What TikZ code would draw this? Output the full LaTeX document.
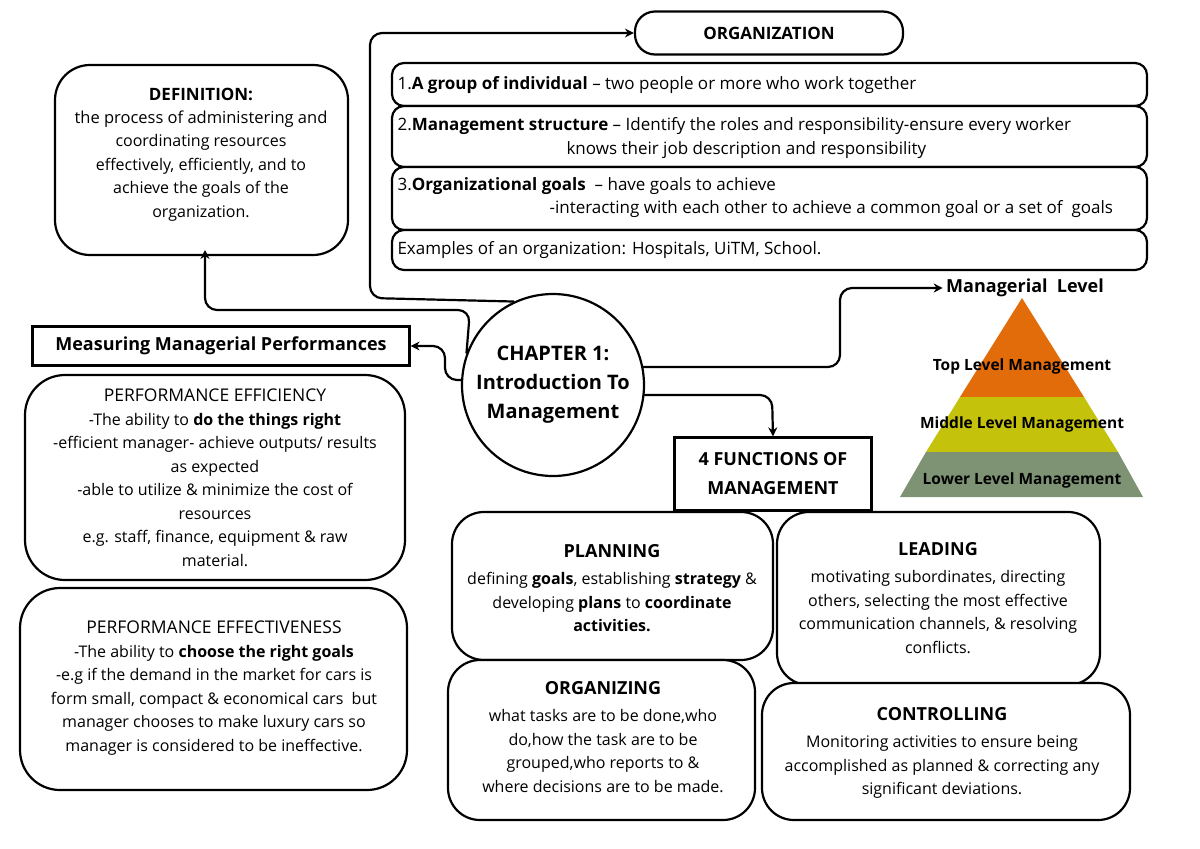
\documentclass[tikz,border=0pt]{standalone}
\usepackage{fontspec}
\setmainfont{Open Sans}
\usetikzlibrary{arrows.meta,calc}
\begin{document}
\begin{tikzpicture}[x=1pt,y=-1pt,
  bx/.style={draw,line width=2.2pt,rounded corners=#1,fill=white},
  bx/.default=30pt,
  txt/.style={align=center,font=\fontsize{16}{23.5}\selectfont},
  ot/.style={anchor=west,font=\fontsize{17}{18}\selectfont},
  arr/.style={line width=2.2pt,-{Stealth[length=9pt,width=9pt]},rounded corners=12pt}]
\useasboundingbox (0,0) rectangle (1200,849);
% definition
\draw[bx=35pt] (55,65) rectangle (348,255);
\node[txt] (def) at (201,155) {\fontsize{17}{23.5}\bfseries DEFINITION:\\[-1pt]\mdseries\fontsize{16.5}{23.5}\selectfont the process of administering and\\coordinating resources\\effectively, efficiently, and to\\achieve the goals of the\\organization.};
\coordinate (defs) at (205,250);
% circle
\node[draw,circle,line width=2.2pt,minimum size=182pt,align=center,font=\fontsize{20}{29}\bfseries] (ch) at (553,385) {CHAPTER 1:\\Introduction To\\Management};
% organization
\node[draw,line width=2.2pt,rounded corners=20pt,minimum width=268pt,minimum height=43pt,font=\fontsize{17}{18}\bfseries] (org) at (769,33) {ORGANIZATION};
\draw[arr] (ch.115) -- (370,298) -- (370,33) -- (org.west);
\draw[bx=12pt] (392,63) rectangle (1147,106);
\draw[bx=12pt] (392,106) rectangle (1147,167);
\draw[bx=12pt] (392,167) rectangle (1147,230);
\draw[bx=12pt] (392,230) rectangle (1147,270);
\node[ot] (o1) at (394,85) {1.\textbf{A group of individual} – two people or more who work together};
\node[ot] (o2) at (394,126) {2.\textbf{Management structure} – Identify the roles and responsibility-ensure every worker};
\node[ot] (o2b) at (563,150) {knows their job description and responsibility};
\node[ot] (o3) at (394,186) {3.\textbf{Organizational goals}\ \ – have goals to achieve};
\node[ot] (o3b) at (546,209) {-interacting with each other to achieve a common goal or a set of\ \ goals};
\node[ot] (o4) at (394,250) {Examples of an organization: Hospitals, UiTM, School.};
% definition arrow
\draw[arr] (ch.160) -- (470,310) -- (205,310) -- (defs);
% managerial level
\node[font=\fontsize{18}{20}\bfseries] (ml) at (1025,288) {Managerial\ \ Level};
\draw[arr] ($(ch.center)+(89,-18)$) -- (840,367) -- (840,288) -- (ml.west);
\fill[fill={rgb,255:red,227;green,108;blue,10}] (1022,298) -- (960,397) -- (1084,397) -- cycle;
\fill[fill={rgb,255:red,196;green,194;blue,10}] (960,397) -- (1084,397) -- (1118,452) -- (926,452) -- cycle;
\fill[fill={rgb,255:red,126;green,146;blue,116}] (926,452) -- (1118,452) -- (1143,497) -- (900,497) -- cycle;
\node[font=\fontsize{15.5}{17}\bfseries] (t1) at (1022,366) {Top Level Management};
\node[font=\fontsize{15.5}{17}\bfseries] (t2) at (1022,424) {Middle Level Management};
\node[font=\fontsize{15.5}{17}\bfseries] (t3) at (1022,480) {Lower Level Management};
% measuring
\node[draw,line width=2.2pt,minimum width=377pt,minimum height=39pt,font=\fontsize{18}{20}\bfseries] (mm) at (221,346) {Measuring Managerial Performances};
\draw[arr] ($(ch.center)+(-91,-5)$) -- (445,380) -- (445,346) -- (mm.east);
\draw[bx=40pt] (25,375) rectangle (405,580);
\node[txt] (pe) at (215,478) {\fontsize{17.5}{23.5}\selectfont PERFORMANCE EFFICIENCY\\-The ability to \textbf{do the things right}\\-efficient manager- achieve outputs/ results\\as expected\\-able to utilize \& minimize the cost of\\resources\\e.g. staff, finance, equipment \& raw\\material.};
\draw[bx=40pt] (20,588) rectangle (407,790);
\node[txt] (pf) at (214,688) {\fontsize{17.5}{23.5}\selectfont PERFORMANCE EFFECTIVENESS\\-The ability to \textbf{choose the right goals}\\-e.g if the demand in the market for cars is\\form small, compact \& economical cars\ \ but\\manager chooses to make luxury cars so\\manager is considered to be ineffective.};
% functions
\node[draw,line width=2.2pt,minimum width=197pt,minimum height=73pt,align=center,font=\fontsize{18}{29}\bfseries] (fn) at (773,474) {4 FUNCTIONS OF\\MANAGEMENT};
\draw[arr] ($(ch.center)+(90,10)$) -- (772,395) -- (fn.north);
\draw[bx=32pt] (452,512) rectangle (773,660);
\node[txt] (pl) at (612,588) {\fontsize{18}{20}\bfseries PLANNING\\[4pt]\mdseries\fontsize{16}{23.5}\selectfont defining \textbf{goals}, establishing \textbf{strategy} \&\\developing \textbf{plans} to \textbf{coordinate}\\\textbf{activities.}};
\draw[bx=32pt] (777,512) rectangle (1100,685);
\node[txt] (ld) at (938,598) {\fontsize{18}{20}\bfseries LEADING\\[4pt]\mdseries\fontsize{16}{23.5}\selectfont motivating subordinates, directing\\others, selecting the most effective\\communication channels, \& resolving\\conflicts.};
\draw[bx=32pt] (448,660) rectangle (755,820);
\node[txt] (og) at (603,737) {\fontsize{18}{20}\bfseries ORGANIZING\\[4pt]\mdseries\fontsize{16}{23.5}\selectfont what tasks are to be done,who\\do,how the task are to be\\grouped,who reports to \&\\where decisions are to be made.};
\draw[bx=32pt] (762,683) rectangle (1130,820);
\node[txt] (ct) at (942,753) {\fontsize{18}{20}\bfseries CONTROLLING\\[4pt]\mdseries\fontsize{16}{23.5}\selectfont Monitoring activities to ensure being\\accomplished as planned \& correcting any\\significant deviations.};
\end{tikzpicture}
\end{document}
